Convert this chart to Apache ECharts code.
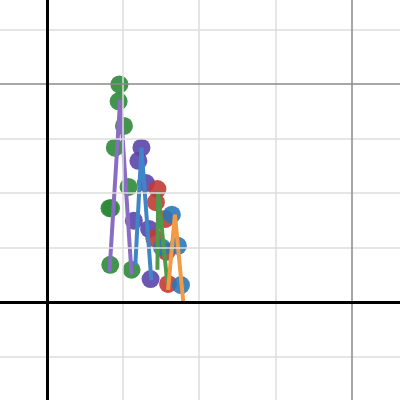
<!DOCTYPE html>
<html><head><meta charset="utf-8">
<script src="https://cdn.jsdelivr.net/npm/echarts@6/dist/echarts.min.js"></script>
<style>html,body{margin:0;background:#fff}#c{width:400px;height:400px}</style>
</head><body><div id="c"></div>
<script>
var lineA = [[0.82,0.55],[0.96,3.71],[1.11,0.50]];
var lineB = [[1.16,0.68],[1.24,2.83],[1.37,0.40]];
var lineC = [[1.45,0.59],[1.46,2.02],[1.58,0.35]];
var lineD = [[1.59,0.22],[1.68,1.60],[1.79,0.00]];
var greenPts = [[0.95,3.99],[0.94,3.68],[1.01,3.23],[0.89,2.83],[1.07,2.11],[0.82,1.72],[0.84,1.72],[0.83,0.68],[1.11,0.59]];
var purplePts = [[1.24,2.83],[1.20,2.59],[1.30,2.18],[1.14,1.49],[1.34,1.34],[1.36,0.42]];
var redPts = [[1.45,2.07],[1.43,1.83],[1.55,1.52],[1.41,1.17],[1.57,0.92],[1.59,0.33]];
var bluePts = [[1.64,1.60],[1.72,1.03],[1.76,0.31],[1.51,1.00]];
var xMinor = [1,2,3], xMajor = [4], yMinor = [-1,1,2,3,5], yMajor = [4];

function lines(vals, key, color, w){
  return vals.map(function(v){ var o={lineStyle:{color:color,width:w,type:'solid'}}; o[key]=v; return o; });
}
var myChart = echarts.init(document.getElementById('c'));
var option = {
  animation:false,
  grid:{left:0,right:0,top:0,bottom:0},
  xAxis:{type:'value',min:-0.62,max:4.64,show:false,splitLine:{show:false}},
  yAxis:{type:'value',min:-1.8,max:5.54,show:false,splitLine:{show:false}},
  series:[
    {type:'line',data:[],silent:true,markLine:{symbol:'none',label:{show:false},animation:false,
      data:[].concat(lines(xMinor,'xAxis','#dcdcdc',1.5),lines(yMinor,'yAxis','#dcdcdc',1.5),
        lines(xMajor,'xAxis','#8a8a8a',1.5),lines(yMajor,'yAxis','#8a8a8a',1.5),
        lines([0],'xAxis','#000',3),lines([0],'yAxis','#000',3))}},
    {type:'line',data:lineA,symbol:'none',lineStyle:{color:'#8b6cc4',width:4}},
    {type:'line',data:lineB,symbol:'none',lineStyle:{color:'#3f86c8',width:4}},
    {type:'line',data:lineC,symbol:'none',lineStyle:{color:'#4f9a48',width:4}},
    {type:'line',data:lineD,symbol:'none',lineStyle:{color:'#f39a45',width:4}},
    {type:'scatter',data:greenPts,symbolSize:18,itemStyle:{color:'#2f8a3b',opacity:0.9}},
    {type:'scatter',data:purplePts,symbolSize:18,itemStyle:{color:'#5b45a8',opacity:0.9}},
    {type:'scatter',data:redPts,symbolSize:18,itemStyle:{color:'#c23b36',opacity:0.9}},
    {type:'scatter',data:bluePts,symbolSize:18,itemStyle:{color:'#2a78b8',opacity:0.9}}
  ]
};
myChart.setOption(option);
</script></body></html>
